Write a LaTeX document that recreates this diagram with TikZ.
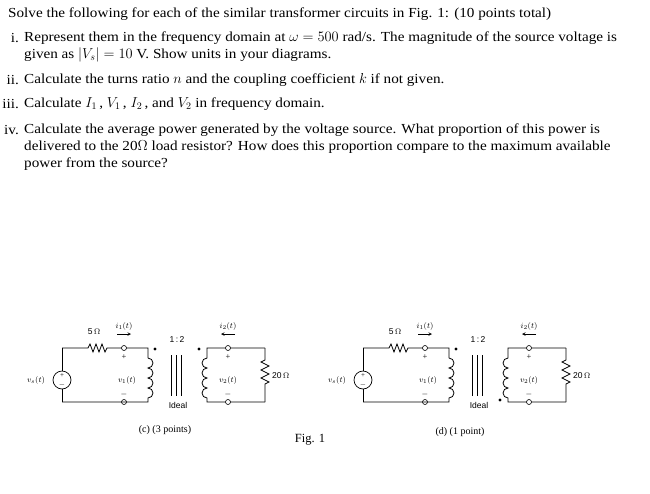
\documentclass[tikz,border=0pt]{standalone}
\usepackage{fontspec}
\setmainfont{Liberation Serif}
\newfontfamily\widef[FakeStretch=1.1]{Liberation Serif}
\newfontfamily\sansf{Liberation Sans}
\begin{document}
\begin{tikzpicture}[x=1pt,y=-1pt,
  txt/.style={anchor=west,inner sep=0pt,font=\widef\fontsize{13.8}{15}\selectfont},
  num/.style={anchor=east,inner sep=0pt,font=\widef\fontsize{13.8}{15}\selectfont},
  lbl/.style={inner sep=0pt,font=\fontsize{8.5}{9}\selectfont},
  slbl/.style={inner sep=0pt,font=\sansf\fontsize{8.5}{9}\selectfont},
  wire/.style={line width=0.8pt},
  term/.style={circle,draw,fill=white,inner sep=0pt,minimum size=5pt,line width=0.6pt},
  dotn/.style={circle,fill,inner sep=0pt,minimum size=3.2pt}]
\useasboundingbox (0,0) rectangle (650,493);
\node[txt] (t0) at (8,14) {Solve the following for each of the similar transformer circuits in Fig. 1: (10 points total)};
\node[num] (n1) at (19,38) {i.};
\node[txt] (t1) at (24,38) {Represent them in the frequency domain at $\omega=500$ rad/s. The magnitude of the source voltage is};
\node[txt] (t1b) at (24,55) {given as $|V_s|=10$ V. Show units in your diagrams.};
\node[num] (n2) at (19,80) {ii.};
\node[txt] (t2) at (24,80) {Calculate the turns ratio $n$ and the coupling coefficient $k$ if not given.};
\node[num] (n3) at (19,104) {iii.};
\node[txt] (t3) at (24,104) {Calculate $I_1$\,, $V_1$\,, $I_2$\,, and $V_2$ in frequency domain.};
\node[num] (n4) at (19,130) {iv.};
\node[txt] (t4) at (24,130) {Calculate the average power generated by the voltage source. What proportion of this power is};
\node[txt] (t4b) at (24,147) {delivered to the 20$\Omega$ load resistor? How does this proportion compare to the maximum available};
\node[txt] (t4c) at (24,164) {power from the source?};

\foreach \ox/\second/\tag in {0/0/c, 301/1/d}{
\begin{scope}[xshift=\ox]
 \draw[wire] (62,348) -- (62,371);
 \draw[wire] (62,389) -- (62,402);
 \node[circle,draw,line width=0.7pt,minimum size=18pt,inner sep=0pt] (src\tag) at (62,380) {};
 \node[inner sep=0pt,font=\fontsize{7}{7}\selectfont] (sp\tag) at (62,376) {+};
 \node[inner sep=0pt,font=\fontsize{7}{7}\selectfont] (sm\tag) at (62,384.5) {$-$};
 \node[lbl] (vs\tag) at (36,380) {$v_s(t)$};
 \draw[wire] (62,348) -- (88,348) -- (90,344) -- (93,352) -- (96,344) -- (99,352) -- (102,344) -- (105,352) -- (107,348) -- (148,348) -- (148,358);
 \node[slbl] (r5\tag) at (94,332) {5\,$\Omega$};
 \node[term] (a1\tag) at (124,348) {};
 \node[term] (b1\tag) at (124,402) {};
 \node[lbl] (i1\tag) at (124,326) {$i_1(t)$};
 \draw[-stealth,line width=0.6pt] (117,334) -- (131,334);
 \node[lbl] (p1\tag) at (124,357) {+};
 \node[lbl] (m1\tag) at (124,394) {$-$};
 \node[lbl] (v1\tag) at (127,380) {$v_1(t)$};
 \draw[wire] (148,358) arc[start angle=-90,end angle=90,radius=5] arc[start angle=-90,end angle=90,radius=5] arc[start angle=-90,end angle=90,radius=5] arc[start angle=-90,end angle=90,radius=5] -- (148,402) -- (62,402);
 \node[dotn] (d1\tag) at (155,349) {};
 \draw[line width=0.6pt] (171,355) -- (171,396) (176,355) -- (176,396) (181,355) -- (181,396);
 \node[slbl] (ratio\tag) at (177,340) {1\,:\,2};
 \node[slbl] (ideal\tag) at (178,405) {Ideal};
 \draw[wire] (265,348) -- (207,348) -- (207,358) arc[start angle=-90,end angle=-270,radius=5] arc[start angle=-90,end angle=-270,radius=5] arc[start angle=-90,end angle=-270,radius=5] arc[start angle=-90,end angle=-270,radius=5] -- (207,402) -- (265,402);
 \ifnum\second=0
   \node[dotn] (d2\tag) at (199,349) {};
 \else
   \node[dotn] (d2\tag) at (199,400) {};
 \fi
 \draw[wire] (265,348) -- (265,360) -- (261,362) -- (269,366) -- (261,370) -- (269,374) -- (261,378) -- (269,382) -- (265,384) -- (265,402);
 \node[slbl,anchor=west] (r20\tag) at (272,376) {20\,$\Omega$};
 \node[term] (a2\tag) at (228,348) {};
 \node[term] (b2\tag) at (228,402) {};
 \node[lbl] (i2\tag) at (228,326) {$i_2(t)$};
 \draw[-stealth,line width=0.6pt] (235,334) -- (221,334);
 \node[lbl] (p2\tag) at (228,357) {+};
 \node[lbl] (m2\tag) at (228,394) {$-$};
 \node[lbl] (v2\tag) at (228,380) {$v_2(t)$};
\end{scope}}
\node[inner sep=0pt,font=\fontsize{10}{11}\selectfont] (capc) at (165,430) {(c) (3 points)};
\node[inner sep=0pt,font=\fontsize{10}{11}\selectfont] (capd) at (460,432) {(d) (1 point)};
\node[inner sep=0pt,font=\fontsize{12.5}{13}\selectfont] (fig) at (310,440) {Fig. 1};
\end{tikzpicture}
\end{document}
